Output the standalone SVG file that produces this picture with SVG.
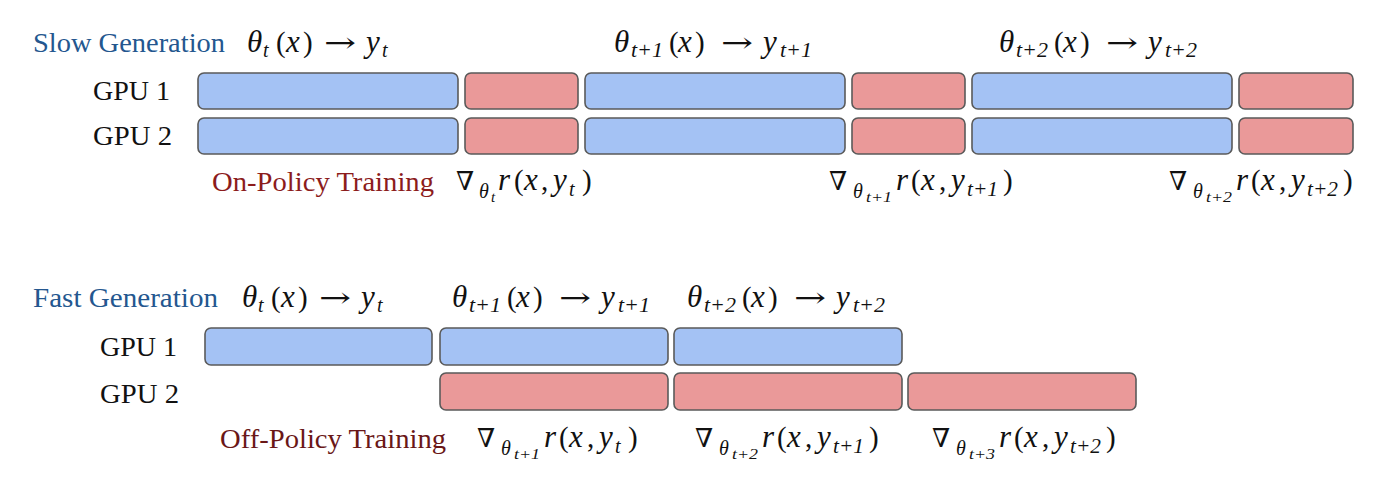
<svg xmlns="http://www.w3.org/2000/svg" width="1376" height="484" viewBox="0 0 1376 484">
<style>
  .gen { fill: #a4c2f4; stroke: #5a5a5a; stroke-width: 1.6; }
  .trn { fill: #ea9999; stroke: #5a5a5a; stroke-width: 1.6; }
  .lbl { font-family: "Liberation Serif", "DejaVu Serif", serif; font-size: 28px; fill: #111; }
  .hdr { font-family: "Liberation Serif", "DejaVu Serif", serif; font-size: 28px; }
  .m { font-family: "Liberation Serif", "DejaVu Serif", serif; font-size: 29px; fill: #111; }
  .i { font-style: italic; font-size: 31px; }
  .s { font-size: 20px; font-style: italic; }
  .ss { font-size: 15px; font-style: italic; }
  .nab { font-family: "DejaVu Serif", serif; font-size: 26px; }
  .arr { font-family: "DejaVu Serif", serif; font-size: 27px; fill: #111; }
</style>
<rect width="1376" height="484" fill="#ffffff"/>

<!-- Slow generation section -->
<g id="slow-header">
  <text class="hdr" x="33" y="52" fill="#24578f" textLength="192" lengthAdjust="spacingAndGlyphs">Slow Generation</text>
</g>
<g id="slow-gen-label-t">
  <text class="m" y="52"><tspan class="i" x="247">θ</tspan><tspan class="s" x="263" y="57">t</tspan><tspan x="276" y="52">(</tspan><tspan class="i" x="286">x</tspan><tspan x="303">)</tspan><tspan class="i" x="366">y</tspan><tspan class="s" x="382" y="57">t</tspan></text>
  <text class="arr" x="324" y="52" textLength="32" lengthAdjust="spacingAndGlyphs">→</text>
</g>
<g id="slow-gen-label-t1">
  <text class="m" y="52"><tspan class="i" x="614">θ</tspan><tspan class="s" x="631" y="57" textLength="32" lengthAdjust="spacingAndGlyphs">t+1</tspan><tspan x="669" y="52">(</tspan><tspan class="i" x="678">x</tspan><tspan x="695">)</tspan><tspan class="i" x="763">y</tspan><tspan class="s" x="780" y="57" textLength="32" lengthAdjust="spacingAndGlyphs">t+1</tspan></text>
  <text class="arr" x="721" y="52" textLength="32" lengthAdjust="spacingAndGlyphs">→</text>
</g>
<g id="slow-gen-label-t2">
  <text class="m" y="52"><tspan class="i" x="999">θ</tspan><tspan class="s" x="1016" y="57" textLength="32" lengthAdjust="spacingAndGlyphs">t+2</tspan><tspan x="1054" y="52">(</tspan><tspan class="i" x="1063">x</tspan><tspan x="1080">)</tspan><tspan class="i" x="1148">y</tspan><tspan class="s" x="1165" y="57" textLength="32" lengthAdjust="spacingAndGlyphs">t+2</tspan></text>
  <text class="arr" x="1106" y="52" textLength="32" lengthAdjust="spacingAndGlyphs">→</text>
</g>

<g id="slow-gpu1-label"><text class="lbl" x="93" y="100" textLength="77" lengthAdjust="spacingAndGlyphs">GPU 1</text></g>
<g id="slow-gpu2-label"><text class="lbl" x="93" y="145" textLength="79" lengthAdjust="spacingAndGlyphs">GPU 2</text></g>

<g id="slow-gpu1-gen1"><rect class="gen" x="198" y="73" width="260" height="36" rx="6"/></g>
<g id="slow-gpu1-train1"><rect class="trn" x="465" y="73" width="113" height="36" rx="6"/></g>
<g id="slow-gpu1-gen2"><rect class="gen" x="585" y="73" width="260" height="36" rx="6"/></g>
<g id="slow-gpu1-train2"><rect class="trn" x="852" y="73" width="113" height="36" rx="6"/></g>
<g id="slow-gpu1-gen3"><rect class="gen" x="972" y="73" width="260" height="36" rx="6"/></g>
<g id="slow-gpu1-train3"><rect class="trn" x="1239" y="73" width="114" height="36" rx="6"/></g>

<g id="slow-gpu2-gen1"><rect class="gen" x="198" y="118" width="260" height="36" rx="6"/></g>
<g id="slow-gpu2-train1"><rect class="trn" x="465" y="118" width="113" height="36" rx="6"/></g>
<g id="slow-gpu2-gen2"><rect class="gen" x="585" y="118" width="260" height="36" rx="6"/></g>
<g id="slow-gpu2-train2"><rect class="trn" x="852" y="118" width="113" height="36" rx="6"/></g>
<g id="slow-gpu2-gen3"><rect class="gen" x="972" y="118" width="260" height="36" rx="6"/></g>
<g id="slow-gpu2-train3"><rect class="trn" x="1239" y="118" width="114" height="36" rx="6"/></g>

<g id="on-policy-label">
  <text class="hdr" x="212" y="191" fill="#8c1c1c" textLength="222" lengthAdjust="spacingAndGlyphs">On-Policy Training</text>
</g>
<g id="slow-grad-t">
  <text class="m" y="190"><tspan class="nab" x="456">∇</tspan><tspan class="s" x="479" y="198">θ</tspan><tspan class="ss" x="491" y="202">t</tspan><tspan class="i" x="498" y="190">r</tspan><tspan x="514">(</tspan><tspan class="i" x="524">x</tspan><tspan x="541">,</tspan><tspan class="i" x="553">y</tspan><tspan class="s" x="569" y="196">t</tspan><tspan x="582" y="190">)</tspan></text>
</g>
<g id="slow-grad-t1">
  <text class="m" y="190"><tspan class="nab" x="829">∇</tspan><tspan class="s" x="853" y="198">θ</tspan><tspan class="ss" x="866" y="202" textLength="26" lengthAdjust="spacingAndGlyphs">t+1</tspan><tspan class="i" x="896" y="190">r</tspan><tspan x="911">(</tspan><tspan class="i" x="921">x</tspan><tspan x="939">,</tspan><tspan class="i" x="951">y</tspan><tspan class="s" x="967" y="196" textLength="31" lengthAdjust="spacingAndGlyphs">t+1</tspan><tspan x="1003" y="190">)</tspan></text>
</g>
<g id="slow-grad-t2">
  <text class="m" y="190"><tspan class="nab" x="1169">∇</tspan><tspan class="s" x="1193" y="198">θ</tspan><tspan class="ss" x="1206" y="202" textLength="26" lengthAdjust="spacingAndGlyphs">t+2</tspan><tspan class="i" x="1236" y="190">r</tspan><tspan x="1251">(</tspan><tspan class="i" x="1261">x</tspan><tspan x="1279">,</tspan><tspan class="i" x="1291">y</tspan><tspan class="s" x="1307" y="196" textLength="31" lengthAdjust="spacingAndGlyphs">t+2</tspan><tspan x="1343" y="190">)</tspan></text>
</g>

<!-- Fast generation section -->
<g id="fast-header">
  <text class="hdr" x="33" y="307" fill="#24578f" textLength="185" lengthAdjust="spacingAndGlyphs">Fast Generation</text>
</g>
<g id="fast-gen-label-t">
  <text class="m" y="307"><tspan class="i" x="242">θ</tspan><tspan class="s" x="258" y="312">t</tspan><tspan x="271" y="307">(</tspan><tspan class="i" x="281">x</tspan><tspan x="298">)</tspan><tspan class="i" x="361">y</tspan><tspan class="s" x="377" y="312">t</tspan></text>
  <text class="arr" x="319" y="307" textLength="32" lengthAdjust="spacingAndGlyphs">→</text>
</g>
<g id="fast-gen-label-t1">
  <text class="m" y="307"><tspan class="i" x="452">θ</tspan><tspan class="s" x="469" y="312" textLength="32" lengthAdjust="spacingAndGlyphs">t+1</tspan><tspan x="507" y="307">(</tspan><tspan class="i" x="516">x</tspan><tspan x="533">)</tspan><tspan class="i" x="601">y</tspan><tspan class="s" x="618" y="312" textLength="32" lengthAdjust="spacingAndGlyphs">t+1</tspan></text>
  <text class="arr" x="559" y="307" textLength="32" lengthAdjust="spacingAndGlyphs">→</text>
</g>
<g id="fast-gen-label-t2">
  <text class="m" y="307"><tspan class="i" x="687">θ</tspan><tspan class="s" x="704" y="312" textLength="32" lengthAdjust="spacingAndGlyphs">t+2</tspan><tspan x="742" y="307">(</tspan><tspan class="i" x="751">x</tspan><tspan x="768">)</tspan><tspan class="i" x="836">y</tspan><tspan class="s" x="853" y="312" textLength="32" lengthAdjust="spacingAndGlyphs">t+2</tspan></text>
  <text class="arr" x="794" y="307" textLength="32" lengthAdjust="spacingAndGlyphs">→</text>
</g>

<g id="fast-gpu1-label"><text class="lbl" x="100" y="356" textLength="77" lengthAdjust="spacingAndGlyphs">GPU 1</text></g>
<g id="fast-gpu2-label"><text class="lbl" x="100" y="403" textLength="79" lengthAdjust="spacingAndGlyphs">GPU 2</text></g>

<g id="fast-gpu1-gen1"><rect class="gen" x="205" y="328" width="227" height="37" rx="6"/></g>
<g id="fast-gpu1-gen2"><rect class="gen" x="440" y="328" width="228" height="37" rx="6"/></g>
<g id="fast-gpu1-gen3"><rect class="gen" x="674" y="328" width="228" height="37" rx="6"/></g>

<g id="fast-gpu2-train1"><rect class="trn" x="440" y="373" width="228" height="37" rx="6"/></g>
<g id="fast-gpu2-train2"><rect class="trn" x="674" y="373" width="228" height="37" rx="6"/></g>
<g id="fast-gpu2-train3"><rect class="trn" x="908" y="373" width="228" height="37" rx="6"/></g>

<g id="off-policy-label">
  <text class="hdr" x="220" y="448" fill="#6a1717" textLength="226" lengthAdjust="spacingAndGlyphs">Off-Policy Training</text>
</g>
<g id="fast-grad-t1">
  <text class="m" y="447"><tspan class="nab" x="477">∇</tspan><tspan class="s" x="501" y="455">θ</tspan><tspan class="ss" x="514" y="459" textLength="26" lengthAdjust="spacingAndGlyphs">t+1</tspan><tspan class="i" x="544" y="447">r</tspan><tspan x="559">(</tspan><tspan class="i" x="569">x</tspan><tspan x="587">,</tspan><tspan class="i" x="599">y</tspan><tspan class="s" x="615" y="453">t</tspan><tspan x="628" y="447">)</tspan></text>
</g>
<g id="fast-grad-t2">
  <text class="m" y="447"><tspan class="nab" x="695">∇</tspan><tspan class="s" x="719" y="455">θ</tspan><tspan class="ss" x="732" y="459" textLength="26" lengthAdjust="spacingAndGlyphs">t+2</tspan><tspan class="i" x="762" y="447">r</tspan><tspan x="777">(</tspan><tspan class="i" x="787">x</tspan><tspan x="805">,</tspan><tspan class="i" x="817">y</tspan><tspan class="s" x="833" y="453" textLength="31" lengthAdjust="spacingAndGlyphs">t+1</tspan><tspan x="869" y="447">)</tspan></text>
</g>
<g id="fast-grad-t3">
  <text class="m" y="447"><tspan class="nab" x="932">∇</tspan><tspan class="s" x="956" y="455">θ</tspan><tspan class="ss" x="969" y="459" textLength="26" lengthAdjust="spacingAndGlyphs">t+3</tspan><tspan class="i" x="999" y="447">r</tspan><tspan x="1014">(</tspan><tspan class="i" x="1024">x</tspan><tspan x="1042">,</tspan><tspan class="i" x="1054">y</tspan><tspan class="s" x="1070" y="453" textLength="31" lengthAdjust="spacingAndGlyphs">t+2</tspan><tspan x="1106" y="447">)</tspan></text>
</g>

<g id="connectors"></g>
</svg>
